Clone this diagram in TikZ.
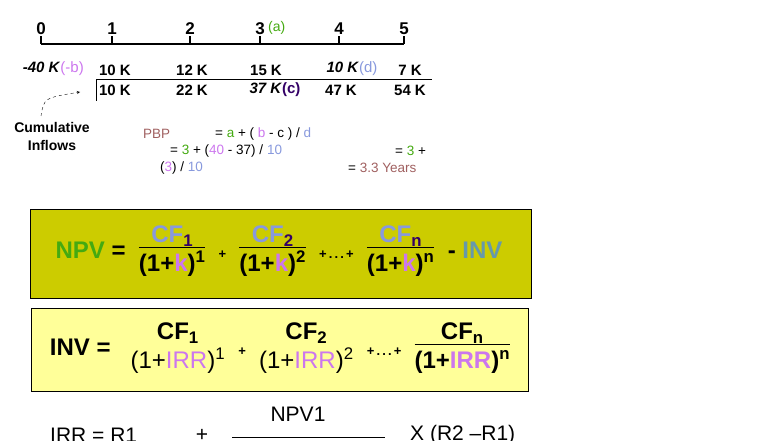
\documentclass[tikz,border=0pt]{standalone}
\usepackage{fontspec}
\setmainfont{Liberation Sans}
\usetikzlibrary{arrows}
\definecolor{grn}{HTML}{44AA11}
\definecolor{pnk}{HTML}{CC77EE}
\definecolor{lav}{HTML}{8899DD}
\definecolor{dpur}{HTML}{330066}
\definecolor{brn}{HTML}{A06060}
\definecolor{olive}{HTML}{CCCC00}
\definecolor{pale}{HTML}{FFFF99}
\definecolor{teal}{HTML}{6699AA}
\tikzstyle{lbl} = [font=\bfseries\fontsize{15}{17}\selectfont, inner sep=0pt]
\tikzstyle{calc} = [font=\fontsize{13.5}{15}\selectfont, inner sep=0pt, anchor=west]
\tikzstyle{formbox} = [draw=black, line width=1pt]
\tikzstyle{eqn} = [font=\bfseries\fontsize{24}{26}\selectfont, inner sep=0pt]
\newcommand{\frc}[2]{\begin{tabular}[c]{@{}c@{}}#1\\[-3pt]\hline\rule{0pt}{24pt}#2\end{tabular}}
\newcommand{\nfrc}[2]{\begin{tabular}[c]{@{}c@{}}#1\\[-3pt]\rule{0pt}{24pt}#2\end{tabular}}
\newcommand{\sm}[1]{{\fontsize{13}{14}\selectfont\enspace#1\enspace}}
\begin{document}
\begin{tikzpicture}[x=1pt, y=-1pt]
\useasboundingbox (0,0) rectangle (784,441);

% time line
\draw[line width=1.3pt] (41,44) -- (404,44);
\foreach \x/\t in {41/0, 112/1, 190/2, 260/3, 339/4, 404/5} {
  \draw[line width=1.3pt] (\x,44) -- (\x,36);
  \node[lbl, font=\bfseries\fontsize{17}{19}\selectfont] (t\t) at (\x,29) {\t};
}
\node[lbl, anchor=west, text=grn, font=\fontsize{14}{16}\selectfont] (ta) at (268,28) {(a)};

% cash flows
\node[lbl, anchor=east] (c0) at (84,69) {\textit{-40 K}\textcolor{pnk}{\mdseries(-b)}};
\node[lbl] (c1) at (115,70) {10 K};
\node[lbl] (c2) at (192,70) {12 K};
\node[lbl] (c3) at (266,70) {15 K};
\node[lbl] (c4) at (352,69) {\textit{10 K}\textcolor{lav}{\mdseries(d)}};
\node[lbl] (c5) at (410,70) {7 K};
\draw[line width=1pt] (96,80) -- (432,80);
\draw[line width=1pt] (96,80) -- (96,101);
\node[lbl] (s1) at (115,90) {10 K};
\node[lbl] (s2) at (192,90) {22 K};
\node[lbl] (s3) at (275,90) {\textit{37 K}\textcolor{dpur}{(c)}};
\node[lbl] (s4) at (341,90) {47 K};
\node[lbl] (s5) at (410,90) {54 K};

\node[lbl, align=center, font=\bfseries\fontsize{14}{18}\selectfont] (cum) at (52,136) {Cumulative\\Inflows};
\coordinate (tip) at (80,92);
\draw[dashed, ->, >=stealth] (41,116) .. controls (44,98) .. (tip);

% payback period
\node[calc, text=brn] (pbp) at (143,134) {PBP};
\node[calc] (f1) at (215,134) {= \textcolor{grn}{a} + ( \textcolor{pnk}{b} - c ) / \textcolor{lav}{d}};
\node[calc] (f2) at (170,151) {= \textcolor{grn}{3} + (\textcolor{pnk}{40} - 37) / \textcolor{lav}{10}};
\node[calc] (f3) at (395,151) {= \textcolor{grn}{3} +};
\node[calc] (f4) at (160,168) {(\textcolor{pnk}{3}) / \textcolor{lav}{10}};
\node[calc] (f5) at (348,168) {= \textcolor{brn}{3.3 Years}};

% NPV
\node[formbox, fill=olive, minimum width=501pt, minimum height=89pt, inner sep=0pt] (npvbox) at (280.5,253.5) {};
\node[eqn] (npv) at (279,252) {\textcolor{grn}{NPV} =\;
  \frc{\textcolor{lav}{CF\textsubscript{\textcolor{dpur}{1}}}}{(1+\textcolor{pnk}{k})\textsuperscript{1}}
  \sm{+} \frc{\textcolor{lav}{CF\textsubscript{\textcolor{dpur}{2}}}}{(1+\textcolor{pnk}{k})\textsuperscript{2}}
  \sm{+\,.\,.\,.\,+} \frc{\textcolor{lav}{CF\textsubscript{\textcolor{dpur}{n}}}}{(1+\textcolor{pnk}{k})\textsuperscript{n}}
  \;- \textcolor{teal}{INV}};

% IRR
\node[formbox, fill=pale, minimum width=497pt, minimum height=83pt, inner sep=0pt] (invbox) at (279.5,349.5) {};
\node[eqn] (inv) at (280,349) {INV = \;
  \nfrc{CF\textsubscript{1}}{\mdseries(1+\textcolor{pnk}{IRR})\textsuperscript{1}}
  \sm{+} \nfrc{CF\textsubscript{2}}{\mdseries(1+\textcolor{pnk}{IRR})\textsuperscript{2}}
  \sm{+\,.\,.\,.\,+} \frc{CF\textsubscript{n}}{(1+\textcolor{pnk}{IRR})\textsuperscript{n}}};

% interpolation
\node[font=\fontsize{21}{23}\selectfont, anchor=west, inner sep=0pt] (irr) at (50,435) {IRR = R1};
\node[font=\fontsize{21}{23}\selectfont, inner sep=0pt] (plus) at (202,435) {+};
\node[font=\fontsize{21}{23}\selectfont, inner sep=0pt] (npv1) at (298,414) {NPV1};
\draw[line width=0.8pt] (232,437) -- (385,437);
\node[font=\fontsize{21}{23}\selectfont, anchor=west, inner sep=0pt] (rr) at (410,435) {X (R2 –R1)};
\end{tikzpicture}
\end{document}
